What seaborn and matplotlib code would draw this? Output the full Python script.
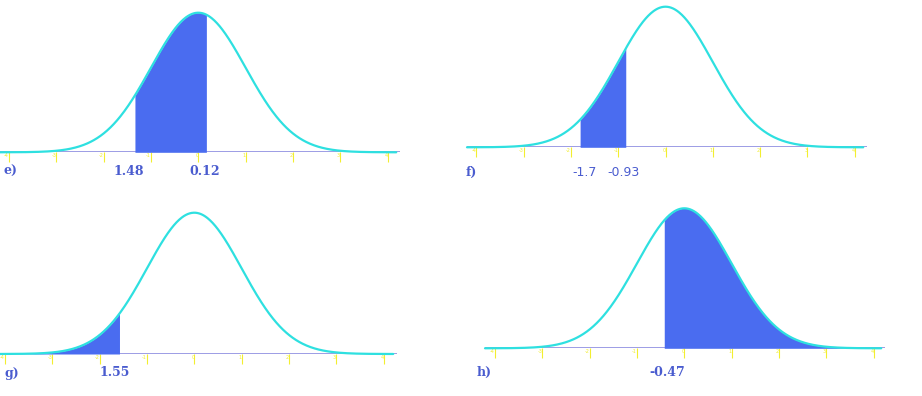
import numpy as np
import matplotlib
matplotlib.use("Agg")
import matplotlib.pyplot as plt
import seaborn as sns
import pandas as pd

sns.set_theme(style="white")

# ---- data ----
panel_names = ["e)", "f)", "g)", "h)"]
mean = 0.0
sd = 1.0
tick_values = [-4, -3, -2, -1, 0, 1, 2, 3, 4]
tick_labels = ["-4", "-3", "-2", "-1", "0", "1", "2", "3", "4"]
shade_lo = [-1.35, -1.81, -4.2, -0.43]
shade_hi = [0.18, -0.84, -1.57, 4.2]
value_labels = [["1.48", "0.12"], ["-1.7", "-0.93"], ["1.55"], ["-0.47"]]
value_label_pos = [[-1.46, 0.14], [-1.72, -0.89], [-1.68], [-0.37]]

# ---- layout (pixels) ----
W, H = 922, 396
unit = 47.3
layout = [  # zero_x, left, right, baseline, peak
    (198.3, 0, 400, 152.3, 12.7),
    (665.5, 467, 867, 147.3, 6.7),
    (194.3, 0, 397, 354.0, 212.7),
    (684.3, 485, 885, 348.3, 208.3),
]
name_pos = [(3, 171), (466, 172), (4, 373), (477, 372)]

CURVE = "#2ee0e0"
FILL = "#4a6cf0"
AXIS = "#8c8ce0"
TICK = "#f2ee30"
TEXT = "#4a5ccf"

fig = plt.figure(figsize=(W / 100, H / 100), dpi=100)
fig.patch.set_facecolor("white")

for i, (x0, L, R, base, peak) in enumerate(layout):
    ax = fig.add_axes([L / W, (H - base) / H, (R - L) / W, (base - peak) / H])
    ax.set_facecolor("none")
    xmin, xmax = (L - x0) / unit, (R - x0) / unit
    xs = np.linspace(xmin, xmax - 0.08, 600)
    ys = np.exp(-0.5 * ((xs - mean) / sd) ** 2) / (sd * np.sqrt(2 * np.pi))
    df = pd.DataFrame({"z": xs, "density": ys})
    peak_val = 1 / (sd * np.sqrt(2 * np.pi))

    ax.axhline(0, color=AXIS, lw=1.2, zorder=1)
    m = (df.z >= shade_lo[i]) & (df.z <= shade_hi[i])
    ax.fill_between(df.z[m], 0, df.density[m], color=FILL, lw=0, zorder=2)
    sns.lineplot(data=df, x="z", y="density", ax=ax, color=CURVE, lw=1.6,
                 zorder=3, clip_on=False)

    ax.set_xlim(xmin, xmax)
    ax.set_ylim(0, peak_val)
    ax.set_xticks(tick_values)
    ax.set_xticklabels(tick_labels, fontsize=3.5, color=TICK, ha="right")
    ax.tick_params(axis="x", direction="out", length=7, width=0.8,
                   color=TICK, pad=-6.5, bottom=True)
    ax.set_yticks([])
    ax.set_xlabel("")
    ax.set_ylabel("")
    for s in ax.spines.values():
        s.set_visible(False)

    # value labels
    for lab, pos in zip(value_labels[i], value_label_pos[i]):
        px = x0 + pos * unit
        fam = "DejaVu Sans" if i == 1 else "DejaVu Serif"
        fig.text(px / W, 1 - name_pos[i][1] / H, lab, ha="center", va="center",
                 fontsize=9, color=TEXT, family=fam,
                 fontweight="normal" if i == 1 else "bold")
    nx, ny = name_pos[i]
    fig.text(nx / W, 1 - ny / H, panel_names[i], ha="left", va="center",
             fontsize=9, color=TEXT, family="DejaVu Serif", fontweight="bold")

fig.savefig("out.png", dpi=100, facecolor="white")
